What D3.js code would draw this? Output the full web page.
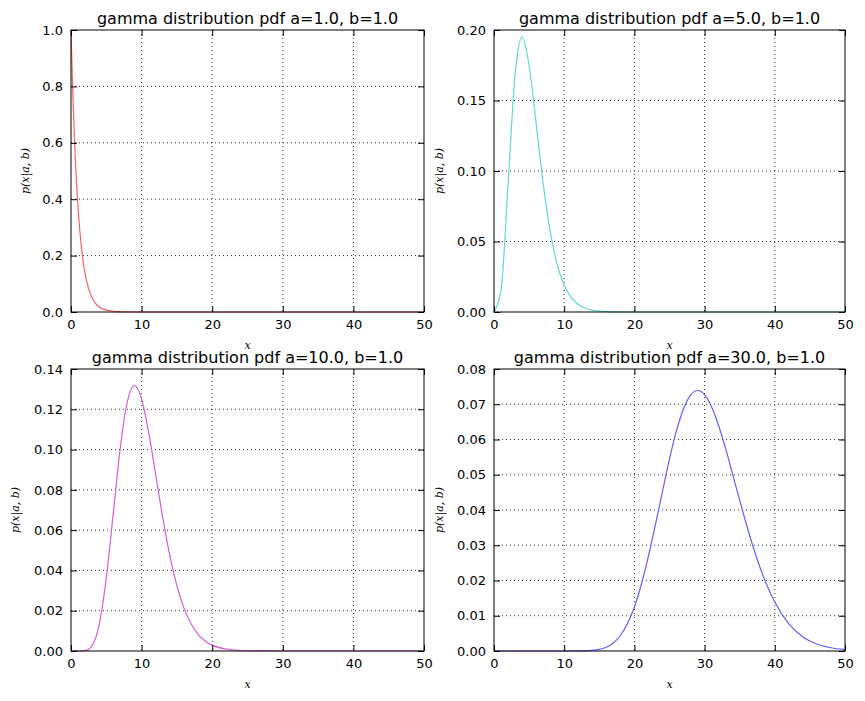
<!DOCTYPE html>
<html><head><meta charset="utf-8">
<script src="https://cdn.jsdelivr.net/npm/d3@7"></script>
<style>body{margin:0;background:#fff}</style></head>
<body><svg id="c" width="865" height="701"></svg>
<script>
const titles = ["gamma distribution pdf a=1.0, b=1.0","gamma distribution pdf a=5.0, b=1.0","gamma distribution pdf a=10.0, b=1.0","gamma distribution pdf a=30.0, b=1.0"];
const colors = ["#ff6060","#5fd9cf","#d35fd3","#6060ff"];
const x1 = [0,0.25,0.5,0.75,1,1.5,2,2.5,3,3.5,4,5,6,7,8,10,50];
const y1 = [1,0.779,0.607,0.472,0.368,0.223,0.135,0.082,0.050,0.030,0.018,0.0067,0.0025,0.0009,0.0003,0,0];
const x2 = [0,1,2,3,4,5,6,7,8,9,10,11,12,13,14,15,17,20,50];
const y2 = [0,0.0153,0.0902,0.168,0.195,0.175,0.134,0.0912,0.0573,0.0337,0.0189,0.0102,0.0053,0.0027,0.0013,0.00065,0.00014,0.00001,0];
const x3 = [0,1,2,3,4,5,6,7,8,9,10,11,12,13,14,15,16,17,18,19,20,22,24,26,30,50];
const y3 = [0,0,0.00019,0.0027,0.0132,0.0363,0.0688,0.1014,0.124,0.1318,0.1251,0.1085,0.0874,0.0661,0.0473,0.0324,0.0213,0.0135,0.0083,0.0050,0.0029,0.0009,0.00026,0.00007,0,0];
const x4 = [0,10,13,15,16,17,18,19,20,21,22,23,24,25,26,27,28,29,30,31,32,33,34,35,36,37,38,39,40,42,44,46,48,50];
const y4 = [0,0,0.00005,0.00044,0.00106,0.00226,0.0044,0.0077,0.0125,0.0190,0.0269,0.0359,0.0453,0.0545,0.0625,0.0687,0.0726,0.0739,0.0727,0.0692,0.0639,0.0574,0.0501,0.0428,0.0356,0.0290,0.0231,0.0181,0.0139,0.0077,0.0040,0.0020,0.00092,0.00041];
const xs=[x1,x2,x3,x4], ys=[y1,y2,y3,y4];
const yMax=[1,0.2,0.14,0.08], yStep=[0.2,0.05,0.02,0.01], yDec=[1,2,2,2];
const xTicks=[0,10,20,30,40,50];
const boxes=[[71,30,424,312],[494,30,845,312],[71,369,424,651],[494,369,845,651]];
const ylabX=[29,443,19,443];
const svg=d3.select("#c");
boxes.forEach((b,i)=>{
  const [l,t,r,bt]=b;
  const x=d3.scaleLinear().domain([0,50]).range([l,r]);
  const y=d3.scaleLinear().domain([0,yMax[i]]).range([bt,t]);
  const yt=d3.range(0,yMax[i]+1e-9,yStep[i]);
  const g=svg.append("g");
  g.selectAll(".gx").data(xTicks.slice(1,-1)).enter().append("line").attr("x1",d=>x(d)).attr("x2",d=>x(d)).attr("y1",t).attr("y2",bt).attr("stroke","#000").attr("stroke-dasharray","1,3").attr("stroke-width",0.8);
  g.selectAll(".gy").data(yt.slice(1,-1)).enter().append("line").attr("y1",d=>y(d)).attr("y2",d=>y(d)).attr("x1",l).attr("x2",r).attr("stroke","#000").attr("stroke-dasharray","1,3").attr("stroke-width",0.8);
  const line=d3.line().x((d,k)=>x(xs[i][k])).y(d=>y(d)).curve(d3.curveMonotoneX);
  g.append("path").attr("d",line(ys[i])).attr("fill","none").attr("stroke",colors[i]).attr("stroke-width",1.2);
  const ax=d3.axisBottom(x).tickValues(xTicks).tickSize(-6).tickPadding(8).tickFormat(d3.format("d"));
  g.append("g").attr("transform",`translate(0,${bt})`).call(ax);
  g.append("g").attr("transform",`translate(0,${t})`).call(d3.axisTop(x).tickValues(xTicks).tickSize(-6).tickFormat(""));
  g.append("g").attr("transform",`translate(${l},0)`).call(d3.axisLeft(y).tickValues(yt).tickSize(-6).tickPadding(8).tickFormat(d3.format("."+yDec[i]+"f")));
  g.append("g").attr("transform",`translate(${r},0)`).call(d3.axisRight(y).tickValues(yt).tickSize(-6).tickFormat(""));
  g.selectAll(".domain").remove();
  g.selectAll(".tick text").attr("font-family","DejaVu Sans").attr("font-size",13).attr("fill","#000");
  g.append("rect").attr("x",l).attr("y",t).attr("width",r-l).attr("height",bt-t).attr("fill","none").attr("stroke","#000");
  g.append("text").attr("x",(l+r)/2).attr("y",t-6).attr("text-anchor","middle").attr("font-family","DejaVu Sans").attr("font-size",16).text(titles[i]);
  g.append("text").attr("x",(l+r)/2).attr("y",bt+37).attr("text-anchor","middle").attr("font-family","DejaVu Serif").attr("font-style","italic").attr("font-size",11).text("x");
  g.append("text").attr("transform",`translate(${ylabX[i]},${(t+bt)/2}) rotate(-90)`).attr("text-anchor","middle").attr("font-family","DejaVu Serif").attr("font-style","italic").attr("font-size",11).text("p(x|a, b)");
});
</script></body></html>
